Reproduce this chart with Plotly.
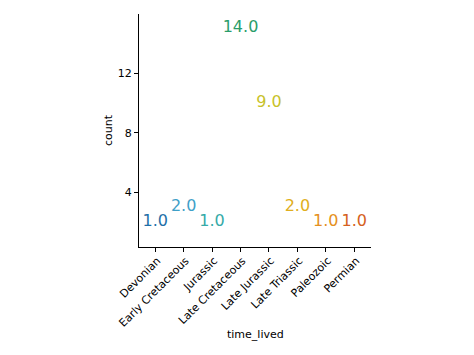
import plotly.graph_objects as go

categories = ["Devonian", "Early Cretaceous", "Jurassic", "Late Cretaceous",
              "Late Jurassic", "Late Triassic", "Paleozoic", "Permian"]
counts = [1, 2, 1, 14, 9, 2, 1, 1]
labels = [f"{c:.1f}" for c in counts]
colors = ["#1f6fa8", "#3fa0c8", "#35aaa8", "#2a9d6a",
          "#c8c22a", "#e0ae20", "#e59020", "#d56020"]
y_ticks = [4, 8, 12]

fig = go.Figure()
fig.add_trace(go.Scatter(
    x=list(range(len(categories))),
    y=[c + 1 for c in counts],
    mode="text",
    text=labels,
    textposition="middle center",
    textfont=dict(family="DejaVu Sans", size=16, color=colors),
    hoverinfo="skip",
    showlegend=False,
))

# page body has an 8px default margin, so the figure is shrunk/shifted by 8px
fig.update_layout(
    width=466, height=347,
    margin=dict(l=131, r=103, t=6, b=108),
    plot_bgcolor="white", paper_bgcolor="white",
    font=dict(family="DejaVu Sans", color="black", size=10),
    showlegend=False,
    annotations=[dict(
        text="time_lived", xref="paper", yref="paper", x=0.5, y=0,
        xanchor="center", yanchor="middle", yshift=-87, showarrow=False,
        font=dict(size=11, color="black"),
    )],
)
fig.update_xaxes(
    range=[-0.57, 7.59],
    automargin=False,
    tickmode="array",
    tickvals=list(range(len(categories))),
    ticktext=categories,
    tickangle=-45,
    ticklabelshift=2,
    ticklabelstandoff=-2,
    showline=True, linecolor="black", linewidth=1,
    ticks="outside", ticklen=4, tickcolor="black",
    showgrid=False, zeroline=False,
    tickfont=dict(size=11),
)
fig.update_yaxes(
    range=[0.35, 15.95],
    automargin=False,
    tickmode="array",
    tickvals=y_ticks,
    ticktext=[str(t) for t in y_ticks],
    showline=True, linecolor="black", linewidth=1,
    ticks="outside", ticklen=4, tickcolor="black",
    showgrid=False, zeroline=False,
    tickfont=dict(size=11),
    title=dict(text="count", font=dict(size=11), standoff=2),
)

fig.write_html("out.html")
